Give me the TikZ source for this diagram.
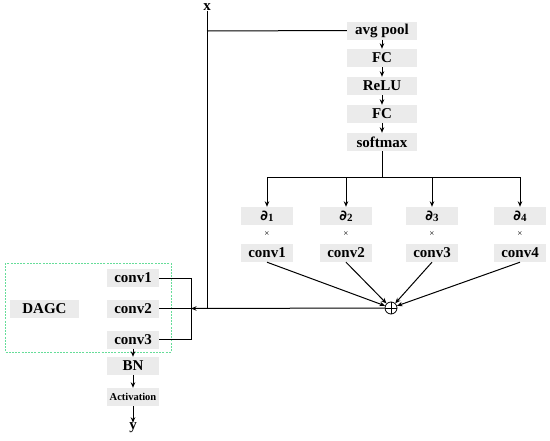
\documentclass[tikz,border=0pt]{standalone}
\usepackage{fontspec}
\setmainfont{Liberation Serif}
\newfontfamily\dfont{DejaVu Sans}
\usetikzlibrary{arrows.meta}
\definecolor{boxgray}{HTML}{EBEBEB}
\definecolor{dashgreen}{HTML}{66DD99}
\begin{document}
\begin{tikzpicture}[x=1pt,y=-1pt,
  bx/.style={fill=boxgray, minimum height=18pt, inner sep=0pt, font=\bfseries\fontsize{15}{16}\selectfont},
  wide/.style={bx, minimum width=70pt},
  narrow/.style={bx, minimum width=52pt},
  arr/.style={-{Stealth[length=5.5pt,width=4.5pt]}, line width=1pt},
  ln/.style={line width=1pt},
  lbl/.style={font=\bfseries\fontsize{15}{16}\selectfont, inner sep=0pt}]
\useasboundingbox (0,0) rectangle (550,440);
% top column
\node[lbl] (x) at (207,7) {x};
\node[wide] (avg) at (382,30.5) {avg pool};
\node[wide] (fc1) at (382,58) {FC};
\node[wide] (relu) at (382,86) {ReLU};
\node[wide] (fc2) at (382,114) {FC};
\node[wide] (soft) at (382,142) {softmax};
\draw[arr] (avg) -- (fc1);
\draw[arr] (fc1) -- (relu);
\draw[arr] (relu) -- (fc2);
\draw[arr] (fc2) -- (soft);
% branch
\coordinate (bj) at (382,177);
\coordinate (b1) at (267,177);
\coordinate (b4) at (520,177);
\draw[ln] (soft.south) -- (bj);
\draw[ln] (b1) -- (b4);
\foreach \i/\xx in {1/267,2/346,3/432,4/520}{
  \node[narrow] (d\i) at (\xx,216) {{\dfont\bfseries\itshape\fontsize{14}{14}\selectfont ∂}\raisebox{-1pt}{\fontsize{11}{11}\selectfont\i}};
  \node[font=\fontsize{9}{9}\selectfont, inner sep=0pt] (m\i) at (\xx,234) {×};
  \node[narrow] (c\i) at (\xx,253) {conv\i};
  \coordinate (t\i) at (\xx,177);
  \draw[arr] (t\i) -- (d\i);
}
% sum
\node[circle, draw, line width=0.8pt, inner sep=0pt, minimum size=12pt] (s) at (391,308) {};
\draw[line width=0.8pt] (s.north) -- (s.south) (s.east) -- (s.west);
\foreach \i in {1,2,3,4}{ \draw[arr] (c\i.south) -- (s); }
% left part
\draw[dashgreen, dash pattern=on 2pt off 1.2pt, line width=1pt] (5,263) rectangle (171,352);
\node[bx, minimum width=69pt] (dagc) at (44.5,308.5) {DAGC};
\node[narrow] (l1) at (133,278) {conv1};
\node[narrow] (l2) at (133,308.5) {conv2};
\node[narrow] (l3) at (133,339.5) {conv3};
\node[narrow] (bn) at (133,366) {BN};
\node[narrow, font=\bfseries\fontsize{10.5}{11}\selectfont] (act) at (133,397) {Activation};
\node[lbl] (y) at (133,428) {y};
\coordinate (r1) at (191,278);
\coordinate (r2) at (191,308.5);
\coordinate (r3) at (191,339.5);
\coordinate (xj) at (207,308.5);
\draw[ln] (l1.east) -- (r1) -- (r3) -- (l3.east);
\draw[ln] (l2.east) -- (r2);
\draw[arr] (s.west) -- (r2);
\draw[ln] (x.south) -- (xj);
\coordinate (xt) at (207,31);
\draw[ln] (xt) -- (avg.west);
\draw[arr] (l3) -- (bn);
\draw[arr] (bn) -- (act);
\draw[arr] (act) -- (y);
\end{tikzpicture}
\end{document}
